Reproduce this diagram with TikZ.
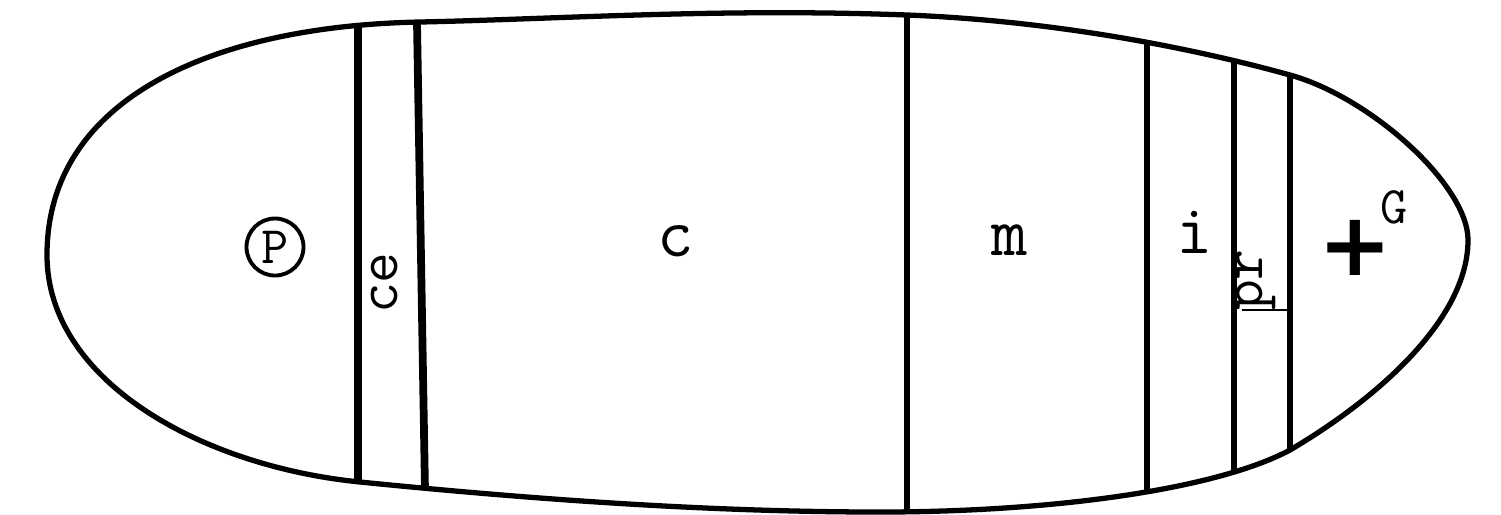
\documentclass[tikz,border=0pt]{standalone}
\usepackage{fontspec}
\newfontfamily\plusfont{DejaVu Sans}

\begin{document}
\begin{tikzpicture}[x=0.01cm, y=-0.01cm,
    egg wall/.style={line width=1.5pt, line join=round},
    band line/.style={line width=1.6pt},
    thick band/.style={line width=2.2pt},
    zone label/.style={font=\fontsize{20}{22}\selectfont\ttfamily, inner sep=0pt},
    band label/.style={font=\fontsize{17}{19}\selectfont\ttfamily, inner sep=0pt, rotate=90}]
    \useasboundingbox (0,0) rectangle (1501,514);
    \path[save path=\eggoutline] (47,255)
        .. controls (47,100) and (210,26) .. (420,22)
        .. controls (560,19) and (720,8) .. (907,15)
        .. controls (1060,21) and (1200,50) .. (1290,75)
        .. controls (1370,97) and (1468,185) .. (1468,240)
        .. controls (1468,320) and (1375,400) .. (1290,450)
        .. controls (1215,490) and (1050,512) .. (880,512)
        .. controls (700,512) and (520,498) .. (360,482)
        .. controls (200,466) and (47,380) .. cycle;
    \draw[egg wall, use path=\eggoutline];
    \begin{scope}
        \clip[use path=\eggoutline];
        \draw[thick band] (358,0) -- (358,514);
        \draw[thick band] (416.6,0) -- (425.4,514);
        \draw[band line] (1147,0) -- (1147,514);
        \draw[band line] (1234,0) -- (1234,514);
        \draw[band line] (1290,0) -- (1290,514);
    \end{scope}
    \draw[band line] (907,14) -- (907,514);
    \draw[line width=0.8pt] (1242,310) -- (1290,310);

    \node[draw, circle, line width=1.1pt, minimum size=0.57cm, inner sep=0pt,
          font=\fontsize{15}{17}\selectfont\ttfamily] (pole) at (275,247) {P};
    \node[band label] (ce) at (385,283) {ce};
    \node[zone label] (c) at (676,241) {c};
    \node[zone label] (m) at (1010,240) {m};
    \node[zone label] (i) at (1195,232) {i};
    \node[band label] (pr) at (1256,280) {pr};
    \node[font=\plusfont\bfseries\fontsize{25}{28}\selectfont, inner sep=0pt] (plus) at (1355,248) {+};
    \node[font=\fontsize{15}{17}\selectfont\ttfamily, inner sep=0pt] (G) at (1394,207) {G};
\end{tikzpicture}
\end{document}
